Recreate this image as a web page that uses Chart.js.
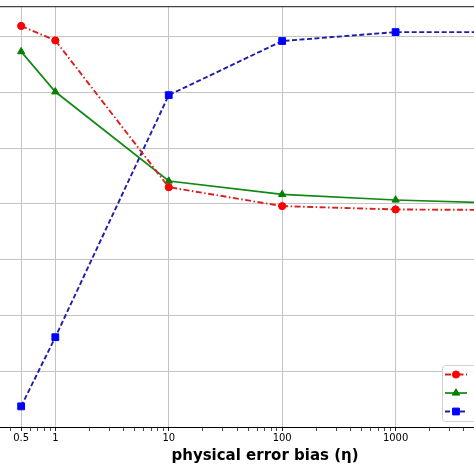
<!DOCTYPE html>
<html>
<head>
<meta charset="utf-8">
<script src="https://cdn.jsdelivr.net/npm/chart.js@4.4.1/dist/chart.umd.min.js"></script>
<style>
  html, body { margin: 0; padding: 0; background: #fff; }
  #wrap { position: relative; width: 474px; height: 474px; overflow: hidden; background: #fff; }
  #c { position: absolute; left: -4px; top: 0; }
</style>
</head>
<body>
<div id="wrap"><canvas id="c" width="538" height="474"></canvas></div>
<script>
// ---- data ----
const biases = [0.5, 1, 10, 100, 1000, 10000];
const seriesNames = ["series 1", "series 2", "series 3"];
const redValues   = [7.19, 6.93, 4.30, 3.96, 3.90, 3.89];
const greenValues = [6.73, 6.01, 4.41, 4.17, 4.07, 4.01];
const blueValues  = [0.37, 1.61, 5.95, 6.92, 7.08, 7.08];
const labeledTicks = [0.5, 1, 10, 100, 1000, 10000];
const xTitle = "physical error bias (\u03b7)";
const xMin = 0.307, xMax = 16600;

// minor + major tick values on the log axis
const xTickValues = [];
[0.1, 1, 10, 100, 1000, 10000].forEach(d => {
  for (let k = 1; k <= 9; k++) {
    const v = +(k * d).toPrecision(3);
    if (v >= xMin && v <= xMax) xTickValues.push(v);
  }
});

const mk = (vals) => vals.map((v, j) => ({ x: biases[j], y: v }));

const legendPlugin = {
  id: 'innerLegend',
  afterDatasetsDraw(chart) {
    const ctx = chart.ctx, a = chart.chartArea;
    const w = 86, h = 56;
    const right = a.right - 6, bottom = a.bottom - 6;
    const left = right - w, top = bottom - h;
    ctx.save();
    ctx.beginPath();
    ctx.roundRect(left + 0.5, top + 0.5, w, h, 3);
    ctx.fillStyle = 'rgba(255,255,255,0.85)';
    ctx.fill();
    ctx.strokeStyle = '#d0d0d0';
    ctx.lineWidth = 1;
    ctx.stroke();
    chart.data.datasets.forEach((ds, i) => {
      const y = top + 9.5 + i * 18.5;
      ctx.beginPath();
      ctx.setLineDash(ds.borderDash || []);
      ctx.strokeStyle = ds.borderColor;
      ctx.lineWidth = ds.borderWidth;
      ctx.moveTo(left + 3, y);
      ctx.lineTo(left + 25, y);
      ctx.stroke();
      ctx.setLineDash([]);
      ctx.fillStyle = ds.pointBackgroundColor;
      ctx.strokeStyle = ds.pointBorderColor;
      ctx.lineWidth = 1;
      Chart.helpers.drawPoint(ctx, {
        pointStyle: ds.pointStyle, radius: ds.pointRadius, borderWidth: 1, rotation: 0
      }, left + 14, y);
      ctx.fillStyle = '#000';
      ctx.font = '12px "DejaVu Sans"';
      ctx.textBaseline = 'middle';
      ctx.fillText(ds.label, left + 34, y);
    });
    ctx.restore();
  }
};

new Chart(document.getElementById('c'), {
  type: 'line',
  data: {
    datasets: [
      { label: seriesNames[0], data: mk(redValues), borderColor: '#d82020', borderWidth: 1.9,
        borderDash: [6, 2.5, 1.5, 2.5], pointStyle: 'circle', pointRadius: 3.6,
        pointBackgroundColor: '#ff0000', pointBorderColor: '#ff0000', pointBorderWidth: 1, tension: 0 },
      { label: seriesNames[1], data: mk(greenValues), borderColor: '#118811', borderWidth: 1.7,
        pointStyle: 'triangle', pointRadius: 4.2,
        pointBackgroundColor: '#008000', pointBorderColor: '#008000', pointBorderWidth: 1, tension: 0 },
      { label: seriesNames[2], data: mk(blueValues), borderColor: '#1e1ea8', borderWidth: 1.9,
        borderDash: [5, 2.5], pointStyle: 'rect', pointRadius: 4.8,
        pointBackgroundColor: '#0000ff', pointBorderColor: '#0000ff', pointBorderWidth: 1, tension: 0 }
    ]
  },
  options: {
    responsive: false,
    animation: false,
    devicePixelRatio: 1,
    layout: { autoPadding: false, padding: { top: 7, left: 0, right: 0, bottom: 1 } },
    plugins: { legend: { display: false }, tooltip: { enabled: false } },
    scales: {
      x: {
        type: 'logarithmic',
        min: xMin, max: xMax,
        afterBuildTicks(scale) { scale.ticks = xTickValues.map(v => ({ value: v })); },
        ticks: {
          autoSkip: false, maxRotation: 0, minRotation: 0, padding: 1,
          color: '#000', font: { family: 'DejaVu Sans', size: 10 },
          callback: (v) => labeledTicks.includes(v) ? String(v) : ''
        },
        grid: {
          color: (c) => (c.tick && labeledTicks.includes(c.tick.value)) ? '#c4c4c4' : 'rgba(0,0,0,0)',
          lineWidth: 1,
          tickColor: '#222',
          tickWidth: (c) => (c.tick && labeledTicks.includes(c.tick.value)) ? 1 : 0.8,
          tickLength: 4,
          drawTicks: true
        },
        border: { display: true, color: '#000', width: 1 },
        title: {
          display: true, text: xTitle, color: '#000',
          font: { family: 'DejaVu Sans', size: 15, weight: 'bold' },
          padding: { top: 2, bottom: 8 }
        }
      },
      y: {
        type: 'linear', min: 0, max: 7.53,
        ticks: { display: false, stepSize: 1 },
        grid: {
          drawTicks: false,
          color: (c) => c.index === 0 ? 'rgba(0,0,0,0)' : (c.tick && c.tick.value === 7.53 ? '#444' : '#c4c4c4'),
          lineWidth: (c) => (c.tick && c.tick.value === 7.53) ? 1.3 : 1
        },
        border: { display: false }
      }
    }
  },
  plugins: [legendPlugin]
});
</script>
</body>
</html>
